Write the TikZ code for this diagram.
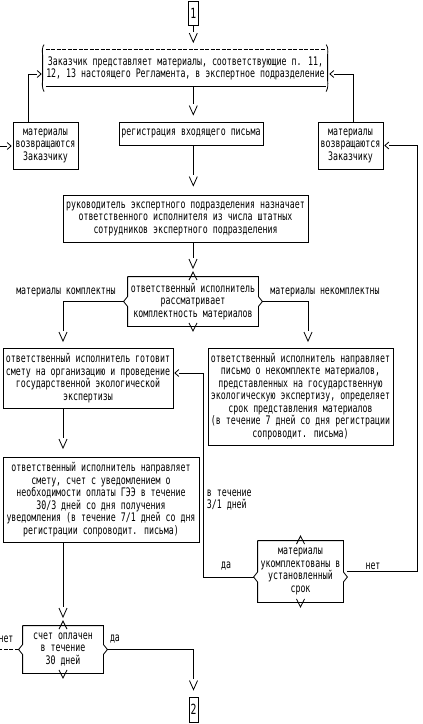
\documentclass[tikz,border=0pt]{standalone}
\usepackage{fontspec}
\newfontfamily\pixfont[FakeStretch=0.70]{DejaVu Sans Mono}
\usetikzlibrary{arrows.meta}
\pgfdeclarearrow{
  name=AsciiV,
  setup code={
    \pgfarrowssettipend{0pt}
    \pgfarrowssetbackend{-9pt}
    \pgfarrowssetvisualbackend{-9pt}
    \pgfarrowssetlineend{-10.5pt}
    \pgfarrowshullpoint{0pt}{0pt}
    \pgfarrowshullpoint{-9pt}{4pt}
    \pgfarrowshullpoint{-9pt}{-4pt}
  },
  drawing code={
    \pgfsetdash{}{0pt}
    \pgfpathmoveto{\pgfqpoint{-9pt}{4pt}}
    \pgfpathlineto{\pgfqpoint{0pt}{0pt}}
    \pgfpathlineto{\pgfqpoint{-9pt}{-4pt}}
    \pgfusepathqstroke
  }
}
\pgfdeclarearrow{
  name=AsciiChev,
  setup code={
    \pgfarrowssettipend{0pt}
    \pgfarrowssetbackend{-4pt}
    \pgfarrowssetvisualbackend{-4pt}
    \pgfarrowssetlineend{-4pt}
    \pgfarrowshullpoint{0pt}{0pt}
    \pgfarrowshullpoint{-4pt}{3.5pt}
    \pgfarrowshullpoint{-4pt}{-3.5pt}
  },
  drawing code={
    \pgfsetdash{}{0pt}
    \pgfpathmoveto{\pgfqpoint{-4pt}{3.5pt}}
    \pgfpathlineto{\pgfqpoint{0pt}{0pt}}
    \pgfpathlineto{\pgfqpoint{-4pt}{-3.5pt}}
    \pgfusepathqstroke
  }
}
\newcommand\decframe[2]{% #1 node name, #2 vertical offset of side notches
  \draw (#1.north west) -- (#1.north east) -- ([yshift=#2+5pt]#1.east) -- ([xshift=4pt,yshift=#2]#1.east) -- ([yshift=#2-5pt]#1.east) -- (#1.south east)
        -- (#1.south west) -- ([yshift=#2-5pt]#1.west) -- ([xshift=-4pt,yshift=#2]#1.west) -- ([yshift=#2+5pt]#1.west) -- (#1.north west);
  \draw ([xshift=-4pt,yshift=-3.5pt]#1.north) -- ([yshift=4.5pt]#1.north) -- ([xshift=4pt,yshift=-3.5pt]#1.north);
  \draw ([xshift=-4pt,yshift=3.5pt]#1.south) -- ([yshift=-4.5pt]#1.south) -- ([xshift=4pt,yshift=3.5pt]#1.south);
}
\begin{document}
\begin{tikzpicture}[x=1pt,y=1pt,line width=0.8pt,
  every node/.style={font=\pixfont\fontsize{11.8}{12.5}\selectfont, inner sep=0pt, align=center},
  box/.style={draw},
  dec/.style={},
  num/.style={draw, font=\pixfont\fontsize{14}{14}\selectfont},
  vconn/.style={-AsciiV, shorten >=8pt},
  hconn/.style={-AsciiChev, shorten >=1.5pt},
  dashline/.style={dash pattern=on 4pt off 1.5pt}]
\useasboundingbox (0,0) rectangle (423,-724);

% nodes
\node[num, minimum width=10pt, minimum height=24pt] (n1) at (193.3,-13) {1};
\node[minimum width=285pt, minimum height=37pt] (main) at (185.5,-68.5)
  {Заказчик представляет материалы, соответствующие п. 11,\\12, 13 настоящего Регламента, в экспертное подразделение};
\node[box, minimum width=65pt, minimum height=47pt] (retL) at (45.5,-145.5) {материалы\\возвращаются\\Заказчику};
\node[box, minimum width=144pt, minimum height=23pt] (reg) at (191,-133.5) {регистрация входящего письма};
\node[box, minimum width=65pt, minimum height=47pt] (retR) at (350.5,-145.5) {материалы\\возвращаются\\Заказчику};
\node[box, minimum width=245pt, minimum height=47pt] (ruk) at (185.5,-218.5)
  {руководитель экспертного подразделения назначает\\ответственного исполнителя из числа штатных\\сотрудников экспертного подразделения};
\node[dec, minimum width=130pt, minimum height=49pt] (d1) at (193,-301.5)
  {ответственный исполнитель\\рассматривает\\комплектность материалов};
\node (lk) at (66,-292) {материалы комплектны};
\node (lnk) at (325,-292) {материалы некомплектны};
\node[box, minimum width=170pt, minimum height=60pt] (smeta) at (88,-378)
  {ответственный исполнитель готовит\\смету на организацию и проведение\\государственной экологической\\экспертизы};
\node[box, minimum width=185pt, minimum height=97pt] (letter) at (300.5,-396.5)
  {ответственный исполнитель направляет\\письмо о некомплекте материалов,\\представленных на государственную\\экологическую экспертизу, определяет\\срок представления материалов\\(в течение 7 дней со дня регистрации\\сопроводит. письма)};
\node[box, minimum width=196pt, minimum height=85pt] (schet) at (101,-499.5)
  {ответственный исполнитель направляет\\смету, счет с уведомлением о\\необходимости оплаты ГЭЭ в течение\\30/3 дней со дня получения\\уведомления (в течение 7/1 дней со дня\\регистрации сопроводит. письма)};
\node[align=left, anchor=west] (ltime) at (206.5,-500) {в течение\\3/1 дней};
\node[dec, minimum width=85pt, minimum height=61pt] (d2) at (300.5,-571.5)
  {материалы\\укомплектованы в\\установленный\\срок};
\node (yes2) at (226,-566) {да};
\node (no2) at (373,-566) {нет};
\node[dec, minimum width=80pt, minimum height=47pt] (d3) at (63,-649.5)
  {счет оплачен\\в течение\\30 дней};
\node (no3) at (6,-639) {нет};
\node (yes3) at (115,-639) {да};
\node[num, minimum width=9pt, minimum height=25pt] (n2) at (193.5,-709.5) {2};

\coordinate (freeIn) at (0,-146);
\coordinate (freeOut) at (0,-649.5);

% frame of the first box
\begin{scope}[shift={(main.north west)}]
  \draw[dashline] (3,0) -- (283,0);
  \draw (3,-37) -- (283,-37);
  \draw (1.5,5) .. controls (-0.5,3) and (-0.5,-2) .. (0,-5) -- (0,-31) .. controls (-0.5,-34) and (-0.5,-39) .. (1.5,-42);
  \draw (283.5,5) .. controls (285.5,3) and (285.5,-2) .. (285,-5) -- (285,-31) .. controls (285.5,-34) and (285.5,-39) .. (283.5,-42);
\end{scope}

% decision frames
\decframe{d1}{0pt}
\decframe{d2}{-5.5pt}
\decframe{d3}{0pt}

% connectors
\draw[vconn, shorten >=7.5pt] (n1.south) -- (n1.south |- main.north);
\draw[vconn, shorten >=7pt] (main.south -| n1.south) -- (n1.south |- reg.north);
\draw[vconn, shorten >=9pt] (reg.south -| n1.south) -- (n1.south |- ruk.north);
\draw[vconn, shorten >=8.5pt] (ruk.south -| d1.north) -- (d1.north);
\draw[vconn, shorten >=6.5pt] ([xshift=-4pt]d1.west) -| (d3.north |- smeta.north);
\draw[vconn, shorten >=6.5pt] ([xshift=4pt]d1.east) -| ([xshift=7.5pt]letter.north);
\draw[vconn, shorten >=8.5pt] (smeta.south -| d3.north) -- (schet.north -| d3.north);
\draw[vconn, shorten >=8.5pt] (schet.south -| d3.north) -- (d3.north);
\draw[vconn, shorten >=7pt] ([xshift=4pt]d3.east) -| (n2.north);
\draw[dashline] ([xshift=-4pt]d3.west) -- (freeOut);
\draw[hconn] (freeIn) -- (freeIn -| retL.west);
\draw[hconn] ([xshift=-17.5pt]retL.north) |- ([yshift=-5.5pt]main.west);
\draw[hconn] ([xshift=2.5pt]retR.north) |- ([yshift=-5.5pt]main.east);
\draw[hconn] ([xshift=4pt]d2.east) -| ([xshift=34pt]retR.east) -- (retR.east);
\draw[hconn] ([xshift=-4pt,yshift=-5.5pt]d2.west) -| ([xshift=30pt,yshift=5pt]smeta.east) -- ([yshift=5pt]smeta.east);
\end{tikzpicture}
\end{document}
